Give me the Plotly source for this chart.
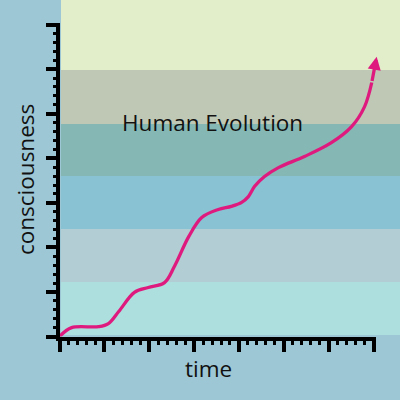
import plotly.graph_objects as go

# ---- data (axis units: 7 major divisions each way) ----
time_x = [0.00, 0.27, 0.87, 1.09, 1.32, 1.67, 1.98, 2.34, 2.56, 2.88, 3.17, 3.54,
          3.83, 4.06, 4.21, 4.35, 4.57, 4.88, 5.46, 6.06, 6.51, 6.80, 6.96]
consciousness_y = [0.00, 0.20, 0.22, 0.29, 0.56, 0.99, 1.10, 1.21, 1.57, 2.24, 2.67, 2.85,
                   2.92, 3.01, 3.14, 3.37, 3.59, 3.79, 4.04, 4.35, 4.71, 5.16, 5.70]
arrow_tip = (7.07, 6.28)

band_colors = ["#ADDFDE", "#B2CDD3", "#89C2D2", "#85B8B4", "#BEC8B5", "#E2EDC9"]
# band boundaries (paper fraction, bottom -> top)
band_edges = [0.1625, 0.295, 0.4275, 0.56, 0.69, 0.825, 1.0]

title_text = "Human Evolution"
x_label = "time"
y_label = "consciousness"

BG = "#9DC7D4"
CURVE = "#DF1A7E"
FONT = "Open Sans"

fig = go.Figure()
fig.add_trace(go.Scatter(
    x=time_x, y=consciousness_y, mode="lines",
    line=dict(color=CURVE, width=3.3, shape="spline", smoothing=1.0),
    hoverinfo="skip", showlegend=False,
))

shapes = []
for i, c in enumerate(band_colors):
    shapes.append(dict(type="rect", xref="paper", yref="paper",
                       x0=0.1525, x1=1.0, y0=band_edges[i], y1=band_edges[i + 1],
                       fillcolor=c, line=dict(width=0), layer="below"))

annotations = [
    dict(x=arrow_tip[0], y=arrow_tip[1], ax=time_x[-1], ay=consciousness_y[-1],
         xref="x", yref="y", axref="x", ayref="y", text="", showarrow=True,
         arrowhead=2, arrowsize=0.8, arrowwidth=3.3, arrowcolor=CURVE),
    dict(x=0.53, y=0.695, xref="paper", yref="paper", text=title_text, showarrow=False,
         font=dict(family=FONT, size=22.5, color="#111111"), xanchor="center", yanchor="middle"),
    dict(x=0.52, y=0.078, xref="paper", yref="paper", text=x_label, showarrow=False,
         font=dict(family=FONT, size=22.5, color="#111111"), xanchor="center", yanchor="middle"),
    dict(x=0.065, y=0.55, xref="paper", yref="paper", text=y_label, showarrow=False,
         textangle=-90, font=dict(family=FONT, size=22.5, color="#111111"),
         xanchor="center", yanchor="middle"),
]

axis_common = dict(showgrid=False, zeroline=False, showticklabels=False,
                   showline=True, linecolor="black", linewidth=4,
                   ticks="outside", tickcolor="black", tickwidth=4,
                   tick0=0, dtick=1, fixedrange=True)

fig.update_layout(
    width=400, height=400, margin=dict(l=0, r=0, t=0, b=0),
    paper_bgcolor=BG, plot_bgcolor="rgba(0,0,0,0)",
    shapes=shapes, annotations=annotations, showlegend=False,
    xaxis=dict(domain=[0.14875, 0.9395], range=[0, 7.05], ticklen=11,
               minor=dict(ticks="outside", ticklen=4, tickwidth=3, tickcolor="black", dtick=0.2, tick0=0),
               **axis_common),
    yaxis=dict(domain=[0.15875, 0.943], range=[0, 7.04], ticklen=10,
               minor=dict(ticks="outside", ticklen=3, tickwidth=3, tickcolor="black", dtick=0.2, tick0=0),
               **axis_common),
)

fig.write_html("out.html", config={"staticPlot": True},
               post_script="document.body.style.margin='0';document.body.style.background='" + BG + "';")
